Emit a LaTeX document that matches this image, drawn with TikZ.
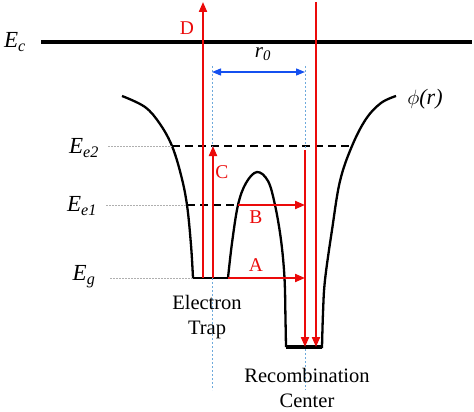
\documentclass[tikz,border=0pt]{standalone}
\usepackage{fontspec}
\setmainfont{Liberation Serif}
\usetikzlibrary{arrows.meta}
\definecolor{rd}{RGB}{235,10,10}
\definecolor{bl}{RGB}{20,80,240}
\definecolor{lbl}{RGB}{110,170,220}
\definecolor{gr}{RGB}{175,175,175}
\begin{document}
\begin{tikzpicture}[x=1pt,y=-1pt,
  lab/.style={font=\fontsize{23}{26}\selectfont\itshape, inner sep=0pt},
  txt/.style={font=\fontsize{20.5}{24}\selectfont, inner sep=0pt},
  rlab/.style={font=\fontsize{19.5}{22}\selectfont, text=rd, inner sep=0pt},
  curve/.style={line width=2.3pt, black},
  rarrow/.style={line width=2pt, rd, -{Triangle[length=10pt,width=8pt]}},
  lvl/.style={line width=2pt, dash pattern=on 8pt off 5pt},
  lead/.style={gr, line width=0.8pt, dash pattern=on 1.5pt off 1.5pt},
  vguide/.style={lbl, line width=0.9pt, dash pattern=on 2pt off 2pt}]
\useasboundingbox (0,0) rectangle (474,412);
% coordinates
\coordinate (ecL) at (41,42); \coordinate (ecR) at (472,42);
\coordinate (trapL) at (193,278); \coordinate (trapR) at (228,278);
\coordinate (recL) at (286,347); \coordinate (recR) at (322,347);
% Ec line
\draw[line width=3.8pt] (ecL) -- (ecR);
\node[lab] (Ec) at (15,42) {E\textsubscript{c}};
% potential curve
\draw[curve] plot[smooth, tension=0.6] coordinates {(122,96) (145,107) (160,124) (172,146) (181,175) (187,205) (191,245) (193,278)};
\draw[curve] (trapL) -- (trapR);
\draw[curve] plot[smooth, tension=0.6] coordinates {(228,278) (232,243) (238,205) (246,183) (257,172) (268,181) (275,205) (281,240) (284.5,278) (285.5,320) (286,347)};
\draw[line width=3.8pt] (recL) -- (recR);
\draw[curve] plot[smooth, tension=0.6] coordinates {(322,348) (323,313) (325,280) (332,230) (340,181) (352,146) (366,119) (381,103) (396,96)};
\node[font=\fontsize{22}{24}\selectfont, inner sep=0pt] (phi) at (425,99) {$\phi$\textit{(r)}};
% levels
\coordinate (e2L) at (172,146); \coordinate (e2R) at (352,146);
\coordinate (e1L) at (187,205); \coordinate (e1R) at (238,205);
\draw[lvl] (e2L) -- (e2R);
\draw[lvl] (e1L) -- (e1R);
\node[lab] (Ee2) at (84,148) {E\textsubscript{e2}};
\node[lab] (Ee1) at (82,206) {E\textsubscript{e1}};
\node[lab] (Eg) at (84,277) {E\textsubscript{g}};
\coordinate (l2) at (108,146); \coordinate (l1) at (106,205); \coordinate (lg) at (110,278);
\draw[lead] (l2) -- (e2L);
\draw[lead] (l1) -- (e1L);
\draw[lead] (lg) -- (trapL);
% blue guides and r0
\coordinate (gLt) at (212,66); \coordinate (gLb) at (212,390);
\coordinate (gRt) at (305,66); \coordinate (gRm) at (305,148);
\coordinate (gRb1) at (305,349); \coordinate (gRb2) at (305,390);
\draw[vguide] (gLt) -- (gLb);
\draw[vguide] (gRt) -- (gRm);
\draw[vguide] (gRb1) -- (gRb2);
\coordinate (r0L) at (212,72); \coordinate (r0R) at (305,72);
\draw[bl, line width=1.3pt, {Triangle[length=9pt,width=7pt]}-{Triangle[length=9pt,width=7pt]}] (r0L) -- (r0R);
\node[font=\fontsize{21}{24}\selectfont\itshape, inner sep=0pt] (r0) at (263,54) {r\textsubscript{0}};
% red transitions
\coordinate (dB) at (203,278); \coordinate (dT) at (203,2);
\coordinate (cB) at (213,278); \coordinate (cT) at (213,146);
\coordinate (aL) at (228,278); \coordinate (aR) at (305,278);
\coordinate (bL) at (238,205); \coordinate (bR) at (305,205);
\coordinate (v1T) at (305,150); \coordinate (v1B) at (305,347);
\coordinate (v2T) at (316,2); \coordinate (v2B) at (316,347);
\draw[rarrow] (dB) -- (dT);
\draw[rarrow] (cB) -- (cT);
\draw[rarrow] (aL) -- (aR);
\draw[rarrow] (bL) -- (bR);
\draw[rarrow] (v1T) -- (v1B);
\draw[rarrow] (v2T) -- (v2B);
\node[rlab] (D) at (187,28) {D};
\node[rlab] (C) at (222,172) {C};
\node[rlab] (B) at (256,217) {B};
\node[rlab] (A) at (256,265) {A};
% texts
\node[txt, align=center] (trap) at (207,317) {Electron\\[1pt]Trap};
\node[txt, align=center] (rec) at (307,388) {Recombination\\[1pt]Center};
\end{tikzpicture}
\end{document}
